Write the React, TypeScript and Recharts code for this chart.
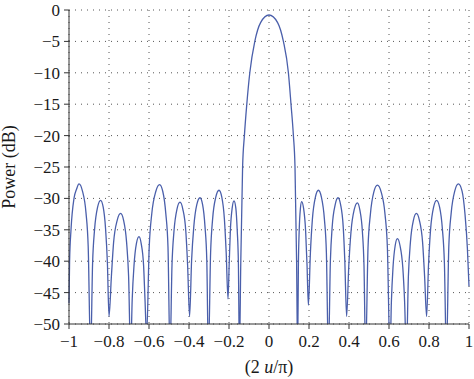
import { LineChart, Line, XAxis, YAxis, CartesianGrid } from 'recharts';

// [2u/pi, power dB]; nulls that hit the floor are set below -50 and clipped
const leftSidelobes: [number, number][] = [
  [-1, -46.7], [-0.997, -40], [-0.99, -35], [-0.975, -30], [-0.962, -28.5], [-0.95, -27.7],
  [-0.933, -28.8], [-0.915, -32.3], [-0.904, -37.7], [-0.892, -55],
  [-0.882, -40.3], [-0.872, -34.9], [-0.857, -31.4], [-0.842, -30.3],
  [-0.829, -31.4], [-0.817, -34.9], [-0.808, -40.3], [-0.8, -48.8],
  [-0.788, -42.4], [-0.777, -37], [-0.759, -33.5], [-0.742, -32.4],
  [-0.727, -33.5], [-0.712, -37], [-0.702, -42.4], [-0.692, -55],
  [-0.684, -46.1], [-0.675, -40.7], [-0.663, -37.2], [-0.65, -36.1],
  [-0.639, -37.2], [-0.627, -40.7], [-0.62, -46.1], [-0.612, -52],
  [-0.599, -37.8], [-0.586, -32.4], [-0.566, -28.9], [-0.547, -27.8],
  [-0.531, -28.9], [-0.516, -32.4], [-0.505, -37.8], [-0.495, -55],
  [-0.485, -40.6], [-0.475, -35.2], [-0.46, -31.7], [-0.445, -30.6],
  [-0.431, -31.7], [-0.416, -35.2], [-0.407, -40.6], [-0.397, -48.8],
  [-0.387, -39.9], [-0.376, -34.5], [-0.361, -31], [-0.345, -29.9],
  [-0.332, -31], [-0.32, -34.5], [-0.311, -39.9], [-0.303, -55],
  [-0.292, -38.7], [-0.282, -33.3], [-0.266, -29.8], [-0.25, -28.7],
  [-0.236, -29.8], [-0.223, -33.3], [-0.214, -38.7], [-0.205, -46],
  [-0.199, -40.4], [-0.193, -35], [-0.184, -31.5], [-0.175, -30.4],
  [-0.166, -31.5], [-0.159, -35], [-0.153, -40.4], [-0.148, -55],
];

const mainLobe: [number, number][] = [
  [-0.141, -40], [-0.132, -25], [-0.123, -20], [-0.111, -15], [-0.096, -10], [-0.071, -5],
  [-0.042, -2], [0, -0.8], [0.043, -2], [0.072, -5], [0.097, -10], [0.11, -15],
  [0.122, -20], [0.13, -25], [0.138, -40], [0.143, -55],
];

const rightSidelobes: [number, number][] = [
  [0.147, -40.5], [0.151, -35.1], [0.157, -31.6], [0.163, -30.5],
  [0.173, -31.6], [0.183, -35.1], [0.19, -40.5], [0.197, -47],
  [0.207, -38.7], [0.217, -33.3], [0.232, -29.8], [0.247, -28.7],
  [0.262, -29.8], [0.277, -33.3], [0.287, -38.7], [0.297, -55],
  [0.307, -39.9], [0.316, -34.5], [0.331, -31], [0.345, -29.9],
  [0.358, -31], [0.371, -34.5], [0.379, -39.9], [0.388, -48.8],
  [0.399, -40.7], [0.41, -35.3], [0.426, -31.8], [0.442, -30.7],
  [0.454, -31.8], [0.467, -35.3], [0.475, -40.7], [0.483, -55],
  [0.495, -37.9], [0.507, -32.5], [0.524, -29], [0.542, -27.9],
  [0.561, -29], [0.58, -32.5], [0.592, -37.9], [0.605, -55],
  [0.612, -46.4], [0.62, -41], [0.631, -37.5], [0.642, -36.4],
  [0.655, -37.5], [0.669, -41], [0.678, -46.4], [0.687, -55],
  [0.697, -42.4], [0.707, -37], [0.722, -33.5], [0.737, -32.4],
  [0.752, -33.5], [0.768, -37], [0.778, -42.4], [0.788, -48.8],
  [0.798, -40.3], [0.808, -34.9], [0.823, -31.4], [0.838, -30.3],
  [0.853, -31.4], [0.867, -34.9], [0.877, -40.3], [0.887, -55],
  [0.899, -37.7], [0.911, -32.3], [0.929, -28.8], [0.947, -27.7],
  [0.965, -28.8], [0.98, -32.5], [0.992, -38], [1, -44],
];

const xTicks = [-1, -0.8, -0.6, -0.4, -0.2, 0, 0.2, 0.4, 0.6, 0.8, 1];
const yTicks = [0, -5, -10, -15, -20, -25, -30, -35, -40, -45, -50];

const data = [...leftSidelobes, ...mainLobe, ...rightSidelobes].map(([u, p]) => ({ u, p }));

const FONT = '"Liberation Serif", "DejaVu Serif", serif';
const AXIS = '#333';

const fmt = (v: number) => (v < 0 ? `\u2212${Math.abs(v)}` : `${v}`);

export default function App() {
  return (
    <div style={{ position: 'absolute', left: 0, top: 0, background: '#fff' }}>
      <LineChart width={474} height={379} data={data} margin={{ top: 10, right: 5, bottom: 0, left: 0 }}>
        <CartesianGrid stroke="#555" strokeDasharray="1 5" />
        <XAxis
          dataKey="u"
          type="number"
          domain={[-1, 1]}
          ticks={xTicks}
          tickFormatter={fmt}
          height={55}
          tickSize={5}
          tickMargin={6}
          interval={0}
          stroke={AXIS}
          tick={{ fill: '#1a1a1a', fontSize: 17, fontFamily: FONT }}
          label={{
            content: () => (
              <text x={269} y={373} textAnchor="middle" fontFamily={FONT} fontSize={18} fill="#1a1a1a">
                (2 <tspan fontStyle="italic">u</tspan>/π)
              </text>
            ),
          }}
        />
        <XAxis xAxisId="top" orientation="top" type="number" domain={[-1, 1]} height={0} tick={false} tickLine={false} stroke={AXIS} />
        <YAxis
          type="number"
          domain={[-50, 0]}
          ticks={yTicks}
          tickFormatter={fmt}
          allowDataOverflow
          width={69}
          tickSize={5}
          tickMargin={4}
          interval={0}
          stroke={AXIS}
          tick={{ fill: '#1a1a1a', fontSize: 17, fontFamily: FONT }}
          label={{
            content: () => (
              <text x={15} y={167} transform="rotate(-90, 15, 167)" textAnchor="middle" fontFamily={FONT} fontSize={18} fill="#1a1a1a">
                Power (dB)
              </text>
            ),
          }}
        />
        <YAxis yAxisId="right" orientation="right" type="number" domain={[-50, 0]} width={0} tick={false} tickLine={false} stroke={AXIS} />
        <Line
          dataKey="p"
          type="monotone"
          stroke="#4a5fab"
          strokeWidth={1.3}
          dot={false}
          isAnimationActive={false}
        />
      </LineChart>
    </div>
  );
}
